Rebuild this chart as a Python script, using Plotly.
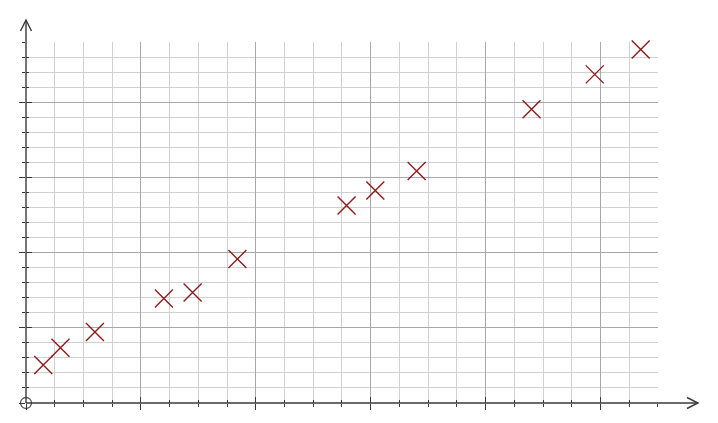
import plotly.graph_objects as go

# data
x_vals = [0.15, 0.30, 0.60, 1.20, 1.45, 1.84, 2.79, 3.04, 3.40, 4.40, 4.95, 5.35]
y_vals = [0.505, 0.735, 0.945, 1.39, 1.47, 1.915, 2.625, 2.825, 3.085, 3.905, 4.37, 4.70]

X_MAX = 5.5
Y_MAX = 4.8
EPS = 0.0005

OFF = 8  # browser body margin
W, H = 718 - OFF, 423 - OFF
ML, MR, MT, MB = 26 - OFF, 60, 42 - OFF, 20
PW = W - ML - MR
PH = H - MT - MB

AX_COL = "#3a3a3a"
MAJ_GRID = "#a8a8a8"
MIN_GRID = "#d0d0d0"
RED = "#8e1b1b"

fig = go.Figure()
fig.add_trace(go.Scatter(
    x=x_vals, y=y_vals, mode="markers",
    marker=dict(symbol="x-thin", size=18, color=RED, line=dict(color=RED, width=1.4)),
    cliponaxis=False, showlegend=False, hoverinfo="x+y"))

# origin circle on overlay axes
fig.add_trace(go.Scatter(
    x=[0], y=[0], mode="markers", xaxis="x2", yaxis="y2",
    marker=dict(symbol="circle-open", size=11, color="#555555", line=dict(color="#555555", width=1.3)),
    cliponaxis=False, showlegend=False, hoverinfo="skip"))

common = dict(showticklabels=False, zeroline=False, showline=False)
fig.update_layout(
    width=W, height=H,
    margin=dict(l=ML, r=MR, t=MT, b=MB, pad=0),
    plot_bgcolor="white", paper_bgcolor="white",
    xaxis=dict(range=[0, X_MAX + EPS], tick0=0, dtick=1, showgrid=True, gridcolor=MAJ_GRID, gridwidth=1,
               ticks="outside", ticklen=6, tickwidth=1, tickcolor=AX_COL,
               minor=dict(dtick=0.25, tick0=0, showgrid=True, gridcolor=MIN_GRID, gridwidth=1,
                          ticks="outside", ticklen=3, tickwidth=1, tickcolor=AX_COL),
               **common),
    yaxis=dict(range=[0, Y_MAX + EPS], tick0=0, dtick=1, showgrid=True, gridcolor=MAJ_GRID, gridwidth=1,
               ticks="outside", ticklen=6, tickwidth=1, tickcolor=AX_COL,
               minor=dict(dtick=0.2, tick0=0, showgrid=True, gridcolor=MIN_GRID, gridwidth=1,
                          ticks="outside", ticklen=3, tickwidth=1, tickcolor=AX_COL),
               **common),
    xaxis2=dict(overlaying="x", anchor="y2", side="bottom", range=[0, X_MAX + EPS], tick0=0, dtick=1,
                showgrid=False, ticks="inside", ticklen=6, tickwidth=1, tickcolor=AX_COL,
                minor=dict(dtick=0.25, tick0=0, showgrid=False, ticks="inside", ticklen=3, tickwidth=1, tickcolor=AX_COL),
                **common),
    yaxis2=dict(overlaying="y", anchor="x2", side="left", range=[0, Y_MAX + EPS], tick0=0, dtick=1,
                showgrid=False, ticks="inside", ticklen=6, tickwidth=1, tickcolor=AX_COL,
                minor=dict(dtick=0.2, tick0=0, showgrid=False, ticks="inside", ticklen=3, tickwidth=1, tickcolor=AX_COL),
                **common),
)

# axis lines with open arrowheads (paper coordinates)
x_tip = (698 - 26) / PW
y_tip = (403 - 20) / PH
wx = 5.5 / PW
wy = 5.5 / PH
lx = 11 / PW
ly = 11 / PH
line_style = dict(color=AX_COL, width=1.4)
shapes = [
    dict(type="line", xref="paper", yref="paper", x0=0, y0=0, x1=x_tip, y1=0, line=line_style),
    dict(type="line", xref="paper", yref="paper", x0=0, y0=0, x1=0, y1=y_tip, line=line_style),
    dict(type="path", xref="paper", yref="paper",
         path=f"M {x_tip - lx},{wy} L {x_tip},0 L {x_tip - lx},{-wy}", line=line_style),
    dict(type="path", xref="paper", yref="paper",
         path=f"M {-wx},{y_tip - ly} L 0,{y_tip} L {wx},{y_tip - ly}", line=line_style),
]
fig.update_layout(shapes=shapes)

fig.write_html("out.html")
